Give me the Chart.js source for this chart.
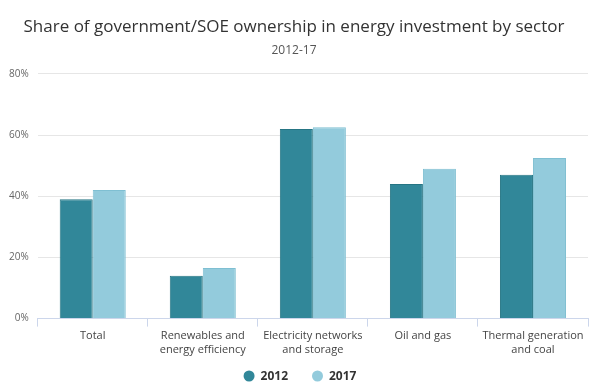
<!DOCTYPE html>
<html>
<head>
<meta charset="utf-8">
<script src="https://cdn.jsdelivr.net/npm/chart.js@4/dist/chart.umd.min.js"></script>
<style>
  html, body { margin: 0; padding: 0; background: #fff; }
  #wrap { width: 600px; height: 392px; }
</style>
</head>
<body>
<div id="wrap"><canvas id="grafico"></canvas></div>
<script>
const CATEGORIAS = ['Total', ['Renewables and', 'energy efficiency'], ['Electricity networks', 'and storage'], 'Oil and gas', ['Thermal generation', 'and coal']];
const ANOS = ['2012', '2017'];
const VALORES_2012 = [39, 14, 62, 44, 47];
const VALORES_2017 = [42, 16.5, 62.5, 49, 52.5];
const TICKS_Y = [0, 20, 40, 60, 80];

const FONTE = "'Open Sans', 'Noto Sans', sans-serif";

// legenda desenhada a mao, para acertar o espaco entre os itens
const legendaPropria = {
  id: 'legendaPropria',
  afterDraw(chart) {
    const ctx = chart.ctx;
    const raio = 5.5, gapTexto = 6, gapItens = 24;
    const y = chart.height - 16;
    ctx.save();
    ctx.font = 'bold 12px ' + FONTE;
    ctx.textBaseline = 'middle';
    const itens = chart.data.datasets.map(ds => ({
      texto: ds.label,
      cor: ds.backgroundColor,
      larg: ctx.measureText(ds.label).width
    }));
    let total = 0;
    itens.forEach((it, i) => { total += raio * 2 + gapTexto + it.larg + (i > 0 ? gapItens : 0); });
    let x = chart.width / 2 - total / 2;
    itens.forEach(it => {
      ctx.fillStyle = it.cor;
      ctx.beginPath();
      ctx.arc(x + raio, y, raio, 0, Math.PI * 2);
      ctx.fill();
      ctx.fillStyle = '#333333';
      ctx.fillText(it.texto, x + raio * 2 + gapTexto, y + 1);
      x += raio * 2 + gapTexto + it.larg + gapItens;
    });
    ctx.restore();
  }
};

new Chart(document.getElementById('grafico'), {
  type: 'bar',
  data: {
    labels: CATEGORIAS,
    datasets: [{
      label: ANOS[0],
      data: VALORES_2012,
      backgroundColor: '#318799',
      borderColor: '#267584',
      borderWidth: 1,
      categoryPercentage: 0.6,
      barPercentage: 1.0
    }, {
      label: ANOS[1],
      data: VALORES_2017,
      backgroundColor: '#93cbdc',
      borderColor: '#7fbfd2',
      borderWidth: 1,
      categoryPercentage: 0.6,
      barPercentage: 1.0
    }]
  },
  plugins: [legendaPropria],
  options: {
    responsive: true,
    maintainAspectRatio: false,
    animation: false,
    layout: { padding: { left: 0, right: 12, top: 7, bottom: 33 } },
    plugins: {
      title: {
        display: true,
        text: 'Share of government/SOE ownership in energy investment by sector',
        color: '#333333',
        font: { family: FONTE, size: 17, weight: 'normal' },
        padding: { top: 10, bottom: 6 }
      },
      subtitle: {
        display: true,
        text: '2012-17',
        color: '#555555',
        font: { family: FONTE, size: 12 },
        padding: { bottom: 16 }
      },
      legend: { display: false },
      tooltip: { enabled: false }
    },
    scales: {
      x: {
        grid: {
          offset: true,
          drawOnChartArea: false,
          color: '#ccd6eb',
          tickLength: 8
        },
        border: { color: '#ccd6eb' },
        ticks: {
          color: '#444444',
          font: { family: FONTE, size: 11 },
          maxRotation: 0,
          autoSkip: false
        }
      },
      y: {
        min: 0,
        max: 80,
        afterBuildTicks: axis => { axis.ticks = TICKS_Y.map(v => ({ value: v })); },
        grid: { color: '#e6e6e6', drawTicks: false },
        border: { display: false },
        ticks: {
          color: '#666666',
          padding: 9,
          font: { family: FONTE, size: 10 },
          callback: v => v + '%'
        }
      }
    }
  }
});
</script>
</body>
</html>
